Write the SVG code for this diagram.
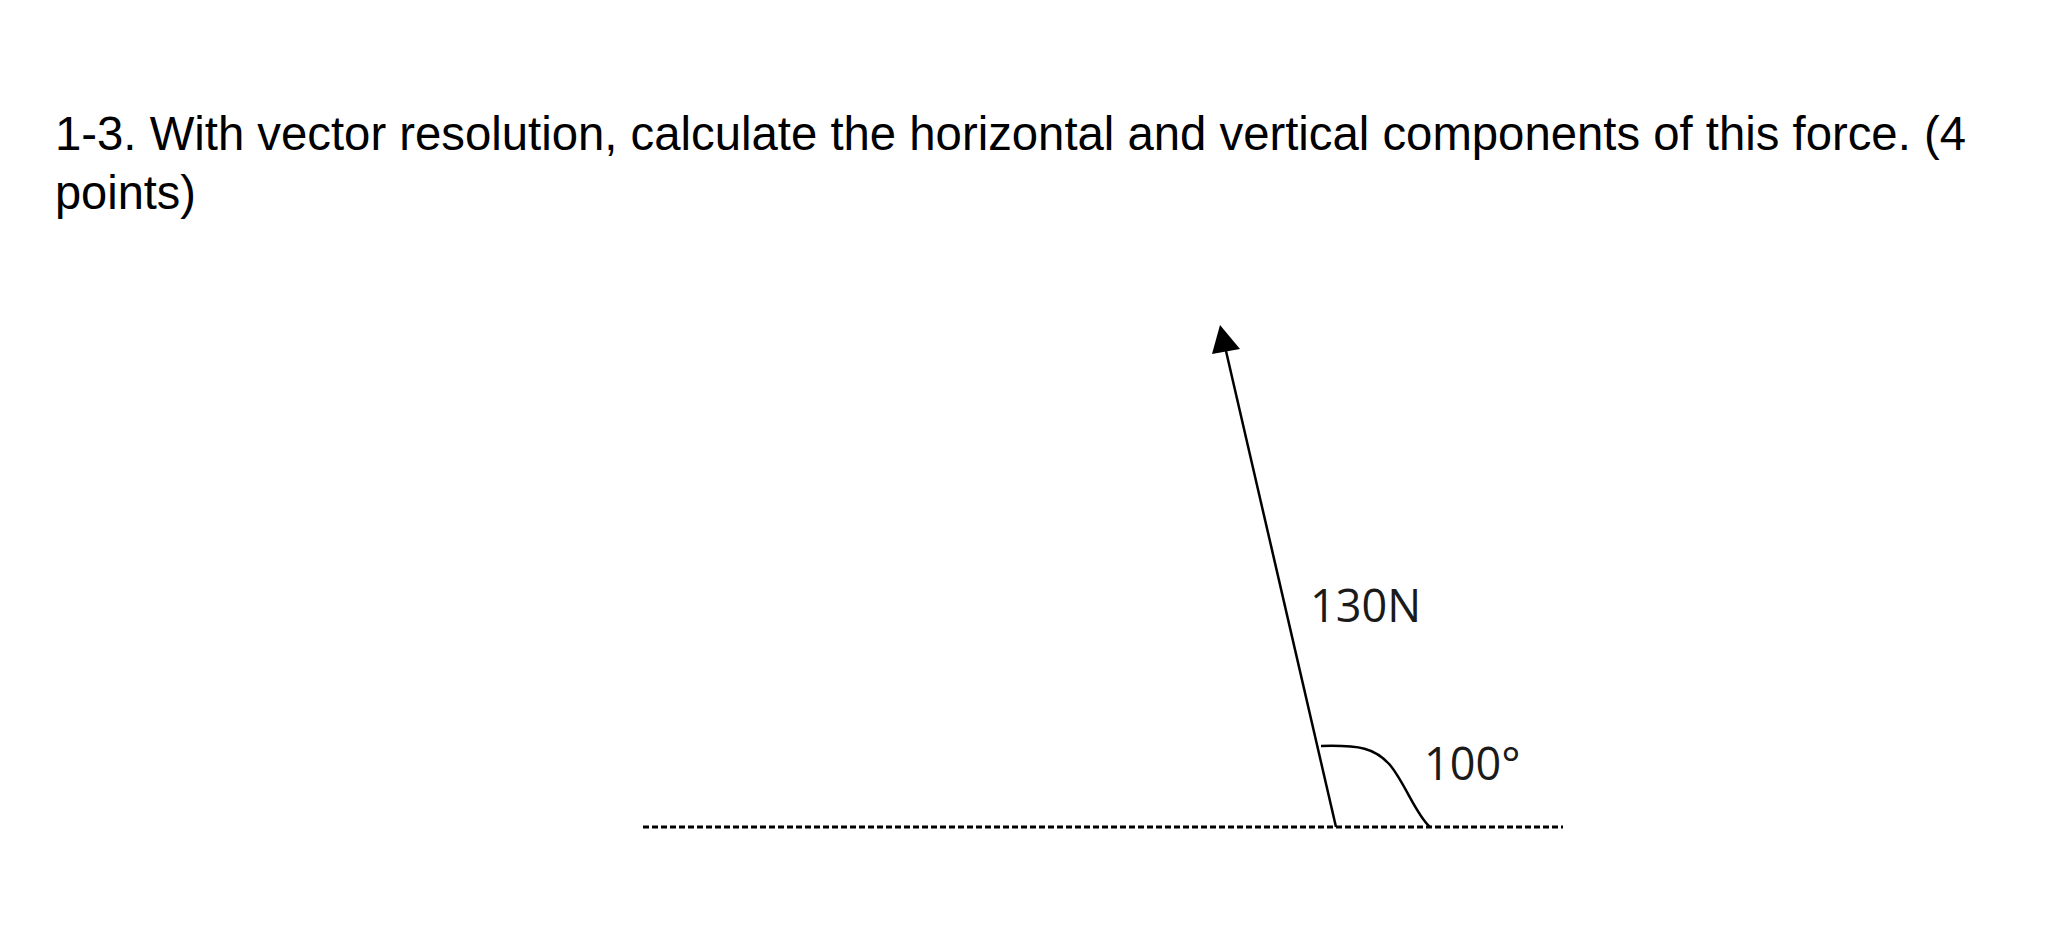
<svg xmlns="http://www.w3.org/2000/svg" width="2048" height="941" viewBox="0 0 2048 941">
<style>
.q{font-family:"Liberation Sans",Arial,sans-serif;font-size:48px;fill:#000}
.lbl{font-family:"Open Sans","Noto Sans",sans-serif;font-size:45px;fill:#1a1a1a}
.ln{stroke:#000;stroke-width:2.5;fill:none}
</style>
<rect width="2048" height="941" fill="#fff"/>
<g id="question">
<text class="q" x="55" y="150" textLength="1911" lengthAdjust="spacingAndGlyphs">1-3. With vector resolution, calculate the horizontal and vertical components of this force. (4</text>
<text class="q" x="55" y="209" textLength="141" lengthAdjust="spacingAndGlyphs">points)</text>
</g>
<g id="baseline">
<line x1="643" y1="827" x2="1563" y2="827" stroke="#000" stroke-width="3" stroke-dasharray="6,3"/>
</g>
<g id="connectors">
<line class="ln" x1="1336" y1="827" x2="1226" y2="351"/>
<path d="M1220,325 L1240,349 L1212,354 Z" fill="#000"/>
<path class="ln" d="M1321,746 C1360,745 1375,748 1390,765 C1405,783 1416,815 1430,827"/>
</g>
<g id="force-label"><text class="lbl" x="1310" y="622">130N</text></g>
<g id="angle-label"><text class="lbl" x="1424" y="780">100°</text></g>
</svg>
